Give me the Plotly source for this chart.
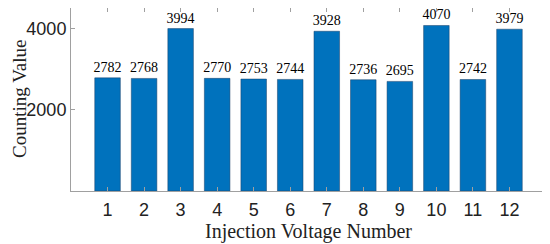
import plotly.graph_objects as go

categories = list(range(1, 13))
values = [2782, 2768, 3994, 2770, 2753, 2744, 3928, 2736, 2695, 4070, 2742, 3979]
x_ticks = list(range(1, 13))
y_ticks = [2000, 4000]

fig = go.Figure()
fig.add_trace(go.Bar(
    x=categories, y=values, width=0.7,
    marker=dict(color="#0072BD", line=dict(color="#1a3e66", width=0.5)),
    text=[str(v) for v in values], textposition="outside",
    textfont=dict(family="Liberation Serif", size=14, color="black"),
    outsidetextfont=dict(family="Liberation Serif", size=14, color="black"),
    constraintext="none",
    cliponaxis=False,
))

axis_common = dict(showline=True, linecolor="#a0a0a0", linewidth=1, mirror="ticks",
                   ticks="inside", ticklen=4, tickcolor="#a0a0a0", showgrid=False,
                   zeroline=False,
                   tickfont=dict(family="Liberation Sans", size=18, color="#222"))

fig.update_layout(
    width=542, height=236,
    margin=dict(l=63, r=4, t=0, b=53, autoexpand=False),
    paper_bgcolor="white", plot_bgcolor="white",
    showlegend=False,
    uniformtext=dict(minsize=14, mode="show"),
    xaxis=dict(range=[0, 13], tickvals=x_ticks, ticktext=[str(t) for t in x_ticks],
               ticklabelstandoff=2,
               **axis_common),
    yaxis=dict(range=[0, 4500], tickvals=y_ticks, ticktext=[str(t) for t in y_ticks],
               **axis_common),
    bargap=0.3,
    annotations=[
        dict(text="Injection Voltage Number", xref="paper", yref="paper",
             x=0.5, y=-0.224, xanchor="center", yanchor="middle", showarrow=False,
             font=dict(family="Liberation Serif", size=20, color="#222")),
        dict(text="Counting Value", xref="paper", yref="paper", textangle=-90,
             x=-63 / 475, y=0.5, xanchor="left", yanchor="middle", showarrow=False,
             borderpad=0,
             font=dict(family="Liberation Serif", size=19, color="#222")),
    ],
)

fig.write_html("out.html")
